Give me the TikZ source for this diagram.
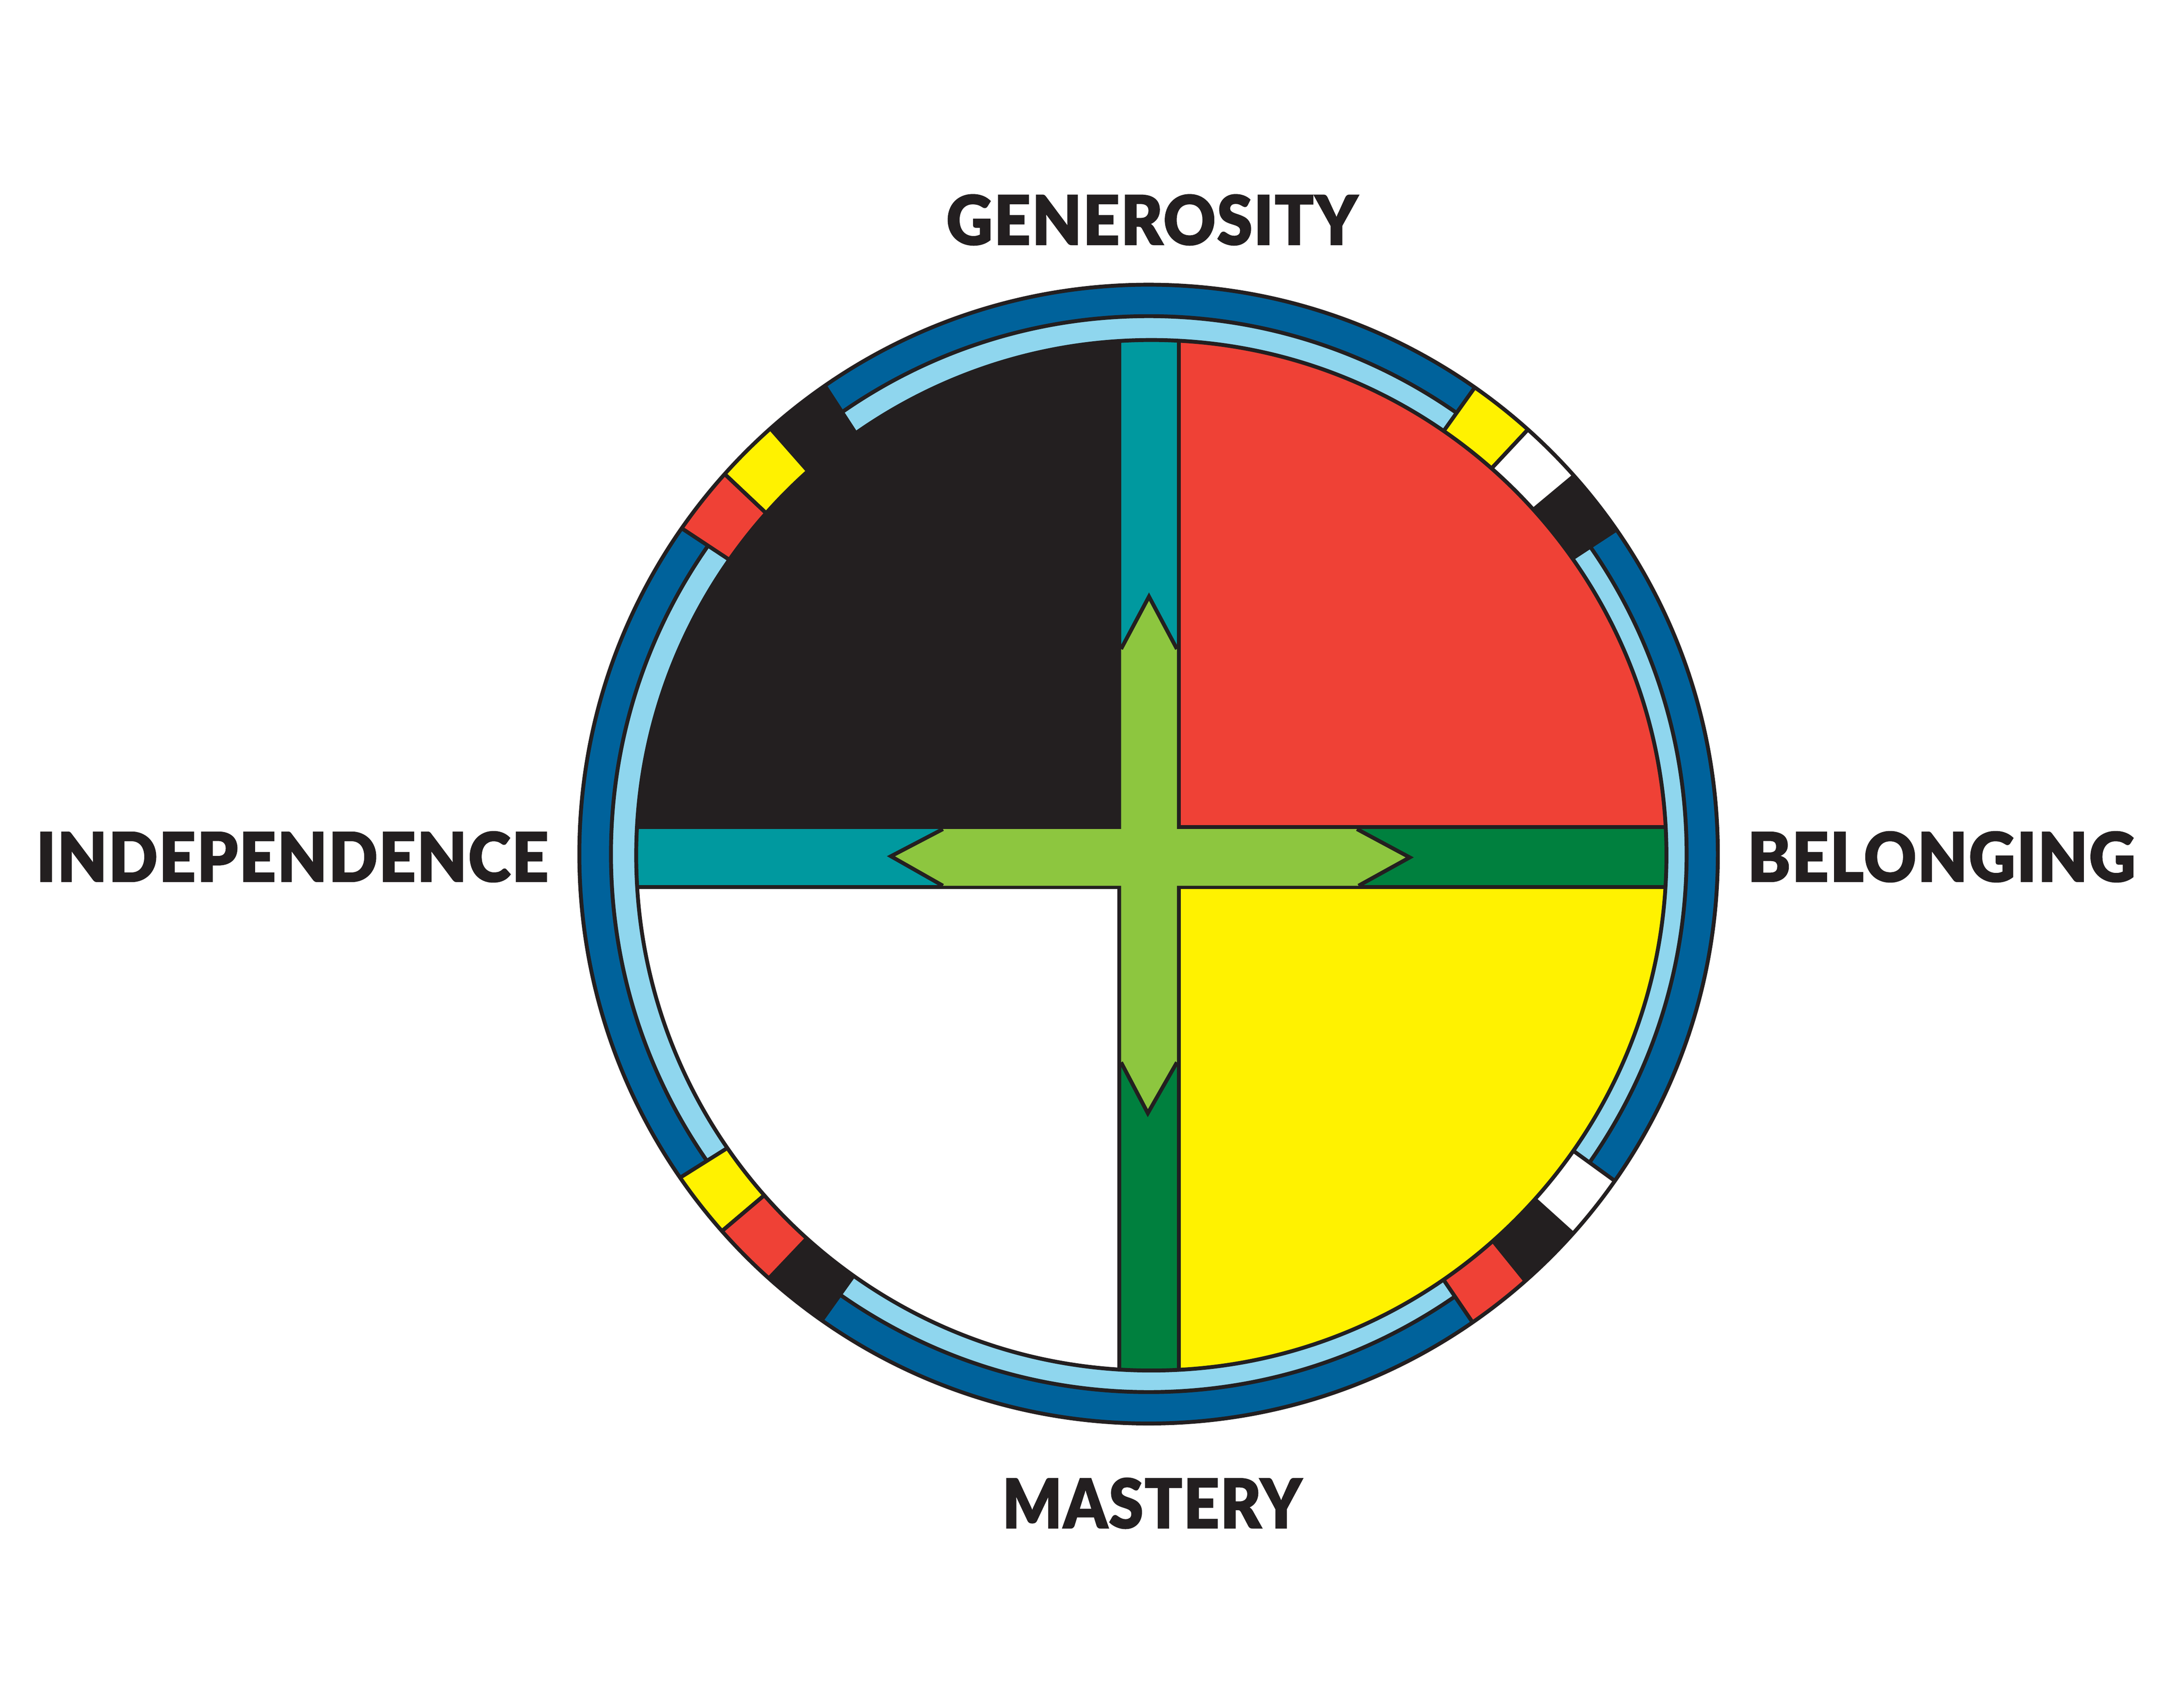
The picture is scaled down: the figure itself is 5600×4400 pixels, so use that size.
\documentclass[tikz,border=0pt]{standalone}
\usepackage{graphicx}
\usepackage{fontspec}
\newfontfamily\labfont{Lato Black}[RawFeature={embolden=1.2},LetterSpace=1.5]
\definecolor{ink}{HTML}{231F20}
\definecolor{ringblue}{HTML}{00629B}
\definecolor{ringlight}{HTML}{8FD6EE}
\definecolor{teal}{HTML}{00999F}
\definecolor{bandgreen}{HTML}{00803E}
\definecolor{quadred}{HTML}{EF4136}
\definecolor{quadyellow}{HTML}{FFF200}
\definecolor{lime}{HTML}{8DC63F}
\tikzset{
  outline/.style={draw=ink,line width=0.1cm,line join=miter},
  block/.style={outline,fill=#1},
  label/.style={inner sep=0pt,outer sep=0pt,text=ink,font=\labfont},
}
\begin{document}
\begin{tikzpicture}[x=0.01cm,y=-0.01cm]
\useasboundingbox (0,0) rectangle (5600,4400);
\fill[white] (0,0) rectangle (5600,4400);
% rings
\fill[ringblue] (2960,2200.5) circle[radius=1467];
\draw[block=ringlight] (2960.5,2200.5) circle[radius=1386];
% segments on the rings
\begin{scope}
\clip (2960,2200.5) circle[radius=1467];
% top right
\fill[ink] (4079,1207) -- (4194,1352) -- (4032,1458) -- (3929,1332) -- cycle;
\draw[block=quadyellow] (3820,971) -- (3956,1087) -- (3825,1227) -- (3705,1132) -- cycle;
\draw[block=white] (3956,1087) -- (4079,1207) -- (3929,1332) -- (3825,1227) -- cycle;
% top left
\fill[ink] (2113.5,965.5) -- (2224.5,1136.5) -- (1902,1457) -- (1728,1342) -- (1800,1040) -- cycle;
\draw[block=quadyellow] (1966,1082) -- (2100,1234) -- (1990,1337) -- (1847,1202) -- cycle;
\draw[block=quadred] (1847,1202) -- (1990,1337) -- (1902,1457) -- (1728,1342) -- cycle;
% bottom right
\fill[ink] (4070,3193) -- (3937,3073) -- (3832,3178) -- (3947,3320) -- cycle;
\draw[block=white] (4183,3058) -- (4034,2950) -- (3937,3073) -- (4070,3193) -- cycle;
\draw[block=quadred] (3947,3320) -- (3832,3178) -- (3707,3278) -- (3810,3429) -- cycle;
% bottom left
\fill[ink] (1964,3312) -- (2097,3172) -- (2220,3267) -- (2105,3428) -- cycle;
\draw[block=quadyellow] (1725,3051.5) -- (1901,2941) -- (1989,3063) -- (1839,3190) -- cycle;
\draw[block=quadred] (1839,3190) -- (1989,3063) -- (2097,3172) -- (1964,3312) -- cycle;
\end{scope}
\draw[outline] (2960,2200.5) circle[radius=1467];
% central disc
\begin{scope}
\clip (2967,2203.5) circle[radius=1327.5];
\fill[white] (1600,800) rectangle (4350,3600);
\fill[ink] (1600,800) rectangle (2889,2136);
\fill[quadred] (3038,800) rectangle (4350,2131);
\fill[quadyellow] (3038,2285.5) rectangle (4350,3600);
\fill[teal] (2889,800) rectangle (3033,2136);
\fill[teal] (1600,2136) rectangle (2889,2281);
\fill[bandgreen] (3033,2136) rectangle (4350,2281);
\fill[bandgreen] (2889,2281) rectangle (3033,3600);
\draw[outline] (3038,800) -- (3038,3600);
\draw[outline] (2884,2285.5) -- (2884,3600);
\draw[outline] (3038,2131) -- (4350,2131);
\draw[outline] (1600,2285.5) -- (4350,2285.5);
\end{scope}
\draw[outline] (2967,2203.5) circle[radius=1327.5];
% four-way arrow
\fill[lime] (2961,1537) -- (3033,1672) -- (3033,2136) -- (3497,2136) -- (3633,2209) -- (3501,2282)
  -- (3033,2282) -- (3033,2737) -- (2958,2868) -- (2889,2737) -- (2889,2282) -- (2430,2282)
  -- (2296,2206) -- (2430,2136) -- (2889,2136) -- (2889,1672) -- cycle;
\draw[outline] (2889,1672) -- (2961,1537) -- (3033,1672);
\draw[outline] (3497,2136) -- (3633,2209) -- (3501,2282);
\draw[outline] (3033,2737) -- (2958,2868) -- (2889,2737);
\draw[outline] (2430,2282) -- (2296,2206) -- (2430,2136);
% labels
\node[label] (generosity) at (2969,566.5) {\resizebox*{10.6cm}{1.31cm}{GENEROSITY}};
\node[label] (independence) at (753.5,2207.5) {\resizebox*{13.2cm}{1.31cm}{INDEPENDENCE}};
\node[label] (belonging) at (5003.5,2207.5) {\resizebox*{10.0cm}{1.31cm}{BELONGING}};
\node[label] (mastery) at (2969,3873) {\resizebox*{7.72cm}{1.31cm}{MASTERY}};
\end{tikzpicture}
\end{document}
